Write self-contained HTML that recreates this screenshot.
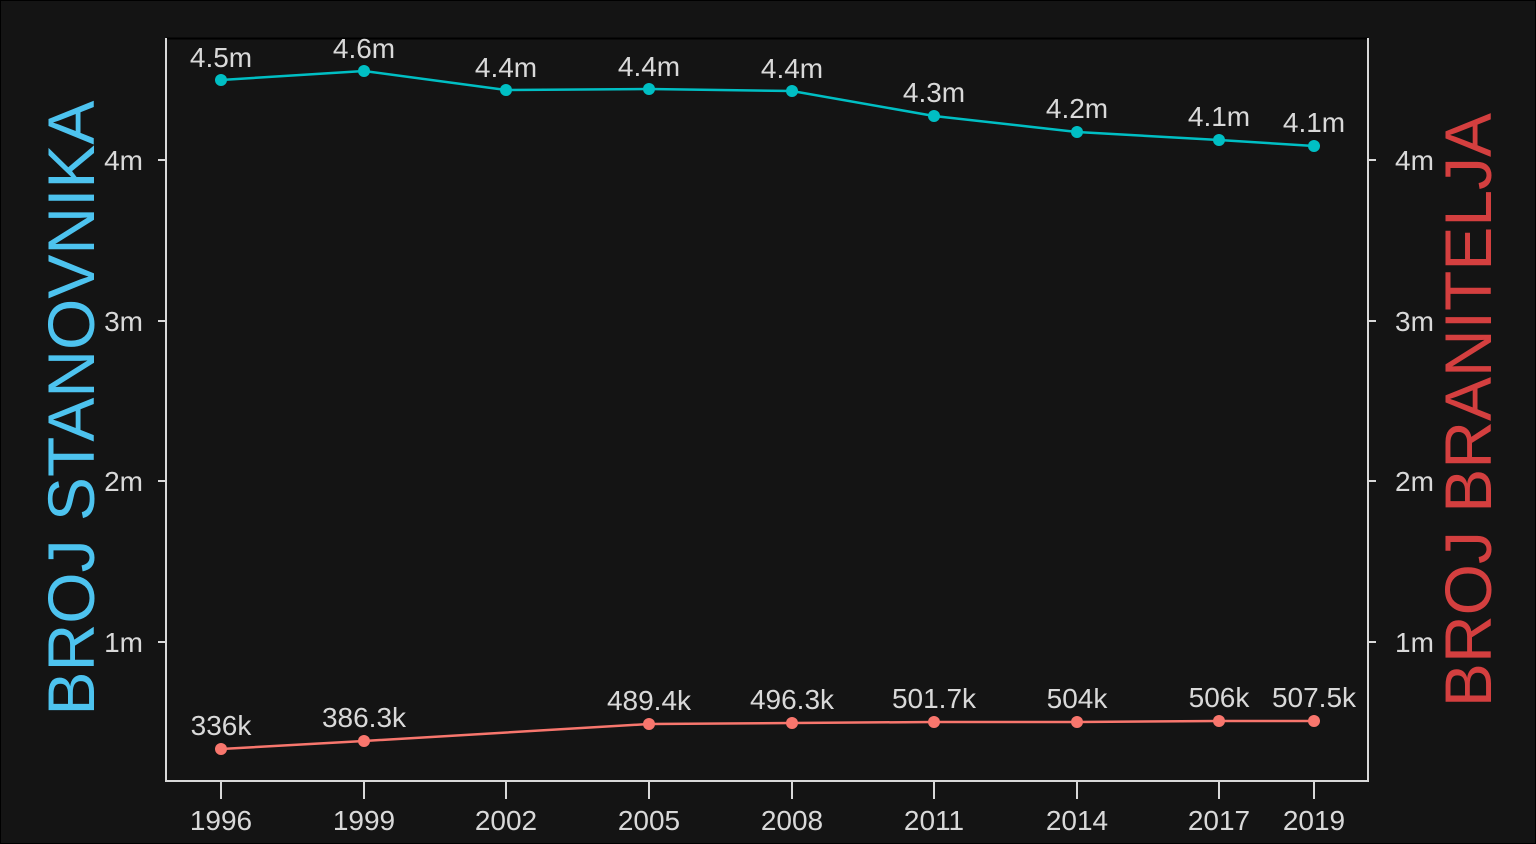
<!DOCTYPE html>
<html><head><meta charset="utf-8"><style>
html,body{margin:0;padding:0;background:#141414;}
svg{display:block;}
text{font-family:"Liberation Sans",Arial,sans-serif;}
</style></head><body>
<svg width="1536" height="844" viewBox="0 0 1536 844">
<rect x="0" y="0" width="1536" height="844" fill="#141414" stroke="#000" stroke-width="2"/>
<line x1="166" y1="38.5" x2="1368" y2="38.5" stroke="#000" stroke-width="2"/>
<g stroke="#d9d9d9" stroke-width="2" fill="none">
<polyline points="166,38 166,781 1368,781 1368,38"/>
<line x1="158" y1="160" x2="166" y2="160"/><line x1="158" y1="321" x2="166" y2="321"/><line x1="158" y1="481" x2="166" y2="481"/><line x1="158" y1="642" x2="166" y2="642"/>
<line x1="1368" y1="160" x2="1376" y2="160"/><line x1="1368" y1="321" x2="1376" y2="321"/><line x1="1368" y1="481" x2="1376" y2="481"/><line x1="1368" y1="642" x2="1376" y2="642"/>
<line x1="221" y1="781" x2="221" y2="799"/><line x1="364" y1="781" x2="364" y2="799"/><line x1="506" y1="781" x2="506" y2="799"/><line x1="649" y1="781" x2="649" y2="799"/><line x1="792" y1="781" x2="792" y2="799"/><line x1="934" y1="781" x2="934" y2="799"/><line x1="1077" y1="781" x2="1077" y2="799"/><line x1="1219" y1="781" x2="1219" y2="799"/><line x1="1314" y1="781" x2="1314" y2="799"/>
</g>
<g fill="#d9d9d9" font-size="28">
<g text-anchor="end"><text x="143" y="170">4m</text><text x="143" y="331">3m</text><text x="143" y="491">2m</text><text x="143" y="652">1m</text></g>
<text x="1395" y="170">4m</text><text x="1395" y="331">3m</text><text x="1395" y="491">2m</text><text x="1395" y="652">1m</text>
<g text-anchor="middle">
<text x="221" y="830">1996</text><text x="364" y="830">1999</text><text x="506" y="830">2002</text><text x="649" y="830">2005</text><text x="792" y="830">2008</text><text x="934" y="830">2011</text><text x="1077" y="830">2014</text><text x="1219" y="830">2017</text><text x="1314" y="830">2019</text>
<text x="221" y="67">4.5m</text><text x="364" y="58">4.6m</text><text x="506" y="77">4.4m</text><text x="649" y="76">4.4m</text><text x="792" y="78">4.4m</text><text x="934" y="102">4.3m</text><text x="1077" y="118">4.2m</text><text x="1219" y="126">4.1m</text><text x="1314" y="132">4.1m</text>
<text x="221" y="735">336k</text><text x="364" y="727">386.3k</text><text x="649" y="710">489.4k</text><text x="792" y="709">496.3k</text><text x="934" y="708">501.7k</text><text x="1077" y="708">504k</text><text x="1219" y="707">506k</text><text x="1314" y="707">507.5k</text>
</g></g>
<polyline fill="none" stroke="#00bfc4" stroke-width="2.5" points="221,80 364,71 506,90 649,89 792,91 934,116 1077,132 1219,140 1314,146"/>
<g fill="#00bfc4"><circle cx="221" cy="80" r="6"/><circle cx="364" cy="71" r="6"/><circle cx="506" cy="90" r="6"/><circle cx="649" cy="89" r="6"/><circle cx="792" cy="91" r="6"/><circle cx="934" cy="116" r="6"/><circle cx="1077" cy="132" r="6"/><circle cx="1219" cy="140" r="6"/><circle cx="1314" cy="146" r="6"/></g>
<polyline fill="none" stroke="#f8766d" stroke-width="2.5" points="221,749 364,741 649,724 792,723 934,722 1077,722 1219,721 1314,721"/>
<g fill="#f8766d"><circle cx="221" cy="749" r="6"/><circle cx="364" cy="741" r="6"/><circle cx="649" cy="724" r="6"/><circle cx="792" cy="723" r="6"/><circle cx="934" cy="722" r="6"/><circle cx="1077" cy="722" r="6"/><circle cx="1219" cy="721" r="6"/><circle cx="1314" cy="721" r="6"/></g>
<text transform="translate(94,408) rotate(-90)" text-anchor="middle" font-size="66" fill="#4dc3ef">BROJ STANOVNIKA</text>
<text transform="translate(1491,410) rotate(-90)" text-anchor="middle" font-size="66" fill="#d43f3f">BROJ BRANITELJA</text>
</svg>
</body></html>
